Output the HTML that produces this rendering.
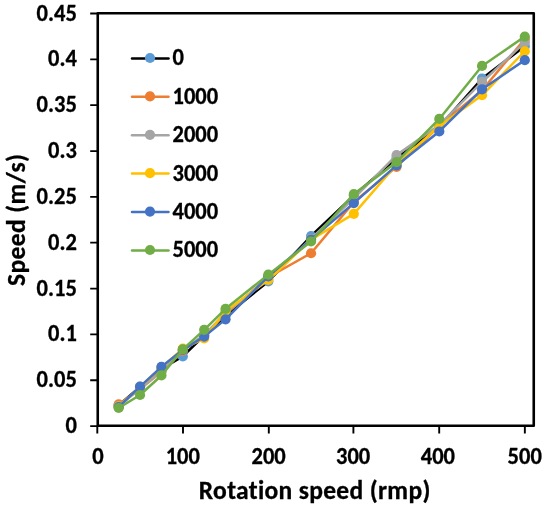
<!DOCTYPE html>
<html><head><meta charset="utf-8"><style>
html,body{margin:0;padding:0;background:#fff;}
body{width:550px;height:508px;overflow:hidden;}
svg{display:block;}
.tt{font-family:Carlito,"Liberation Sans",sans-serif;font-weight:bold;font-size:25.5px;fill:#000;stroke:#000;stroke-width:0.3px;font-variant-ligatures:none;font-feature-settings:"liga" 0;}
.t{font-family:Carlito,"Liberation Sans",sans-serif;font-weight:bold;font-size:22.5px;fill:#000;stroke:#000;stroke-width:0.3px;font-variant-ligatures:none;font-feature-settings:"liga" 0;}
</style></head><body>
<svg width="550" height="508" viewBox="0 0 550 508">
<rect x="97.75" y="13.2" width="436.0" height="412.6" fill="none" stroke="#000" stroke-width="2.6" stroke-linejoin="round"/>
<path d="M90.2 426.10H97.75 M90.2 380.26H97.75 M90.2 334.41H97.75 M90.2 288.57H97.75 M90.2 242.72H97.75 M90.2 196.88H97.75 M90.2 151.03H97.75 M90.2 105.19H97.75 M90.2 59.34H97.75 M90.2 13.50H97.75" stroke="#000" stroke-width="1.8" fill="none"/>
<path d="M97.30 425.8V433.6 M183.00 425.8V433.6 M268.80 425.8V433.6 M353.40 425.8V433.6 M439.20 425.8V433.6 M524.85 425.8V433.6" stroke="#000" stroke-width="1.9" fill="none"/>
<g><polyline points="118.67,405.17 140.05,386.83 161.42,368.95 182.80,356.48 204.17,335.49 225.55,315.77 268.30,281.48 311.05,236.00 353.80,195.66 396.55,158.07 439.30,126.89 482.05,78.48 524.80,46.21" fill="none" stroke="#000000" stroke-width="2.5" stroke-linejoin="round" stroke-linecap="round"/><circle cx="118.67" cy="405.17" r="5.1" fill="#5B9BD5"/><circle cx="140.05" cy="386.83" r="5.1" fill="#5B9BD5"/><circle cx="161.42" cy="368.95" r="5.1" fill="#5B9BD5"/><circle cx="182.80" cy="356.48" r="5.1" fill="#5B9BD5"/><circle cx="204.17" cy="335.49" r="5.1" fill="#5B9BD5"/><circle cx="225.55" cy="315.77" r="5.1" fill="#5B9BD5"/><circle cx="268.30" cy="281.48" r="5.1" fill="#5B9BD5"/><circle cx="311.05" cy="236.00" r="5.1" fill="#5B9BD5"/><circle cx="353.80" cy="195.66" r="5.1" fill="#5B9BD5"/><circle cx="396.55" cy="158.07" r="5.1" fill="#5B9BD5"/><circle cx="439.30" cy="126.89" r="5.1" fill="#5B9BD5"/><circle cx="482.05" cy="78.48" r="5.1" fill="#5B9BD5"/><circle cx="524.80" cy="46.21" r="5.1" fill="#5B9BD5"/></g>
<g><polyline points="118.67,404.25 140.05,389.12 161.42,371.70 182.80,351.07 204.17,335.03 225.55,313.94 268.30,277.26 311.05,253.24 353.80,202.08 396.55,166.87 439.30,125.98 482.05,90.22 524.80,39.06" fill="none" stroke="#ED7D31" stroke-width="2.5" stroke-linejoin="round" stroke-linecap="round"/><circle cx="118.67" cy="404.25" r="5.1" fill="#ED7D31"/><circle cx="140.05" cy="389.12" r="5.1" fill="#ED7D31"/><circle cx="161.42" cy="371.70" r="5.1" fill="#ED7D31"/><circle cx="182.80" cy="351.07" r="5.1" fill="#ED7D31"/><circle cx="204.17" cy="335.03" r="5.1" fill="#ED7D31"/><circle cx="225.55" cy="313.94" r="5.1" fill="#ED7D31"/><circle cx="268.30" cy="277.26" r="5.1" fill="#ED7D31"/><circle cx="311.05" cy="253.24" r="5.1" fill="#ED7D31"/><circle cx="353.80" cy="202.08" r="5.1" fill="#ED7D31"/><circle cx="396.55" cy="166.87" r="5.1" fill="#ED7D31"/><circle cx="439.30" cy="125.98" r="5.1" fill="#ED7D31"/><circle cx="482.05" cy="90.22" r="5.1" fill="#ED7D31"/><circle cx="524.80" cy="39.06" r="5.1" fill="#ED7D31"/></g>
<g><polyline points="118.67,406.09 140.05,388.67 161.42,371.25 182.80,350.43 204.17,335.03 225.55,313.02 268.30,279.10 311.05,238.75 353.80,198.41 396.55,155.13 439.30,125.06 482.05,81.97 524.80,42.45" fill="none" stroke="#A5A5A5" stroke-width="2.5" stroke-linejoin="round" stroke-linecap="round"/><circle cx="118.67" cy="406.09" r="5.1" fill="#A5A5A5"/><circle cx="140.05" cy="388.67" r="5.1" fill="#A5A5A5"/><circle cx="161.42" cy="371.25" r="5.1" fill="#A5A5A5"/><circle cx="182.80" cy="350.43" r="5.1" fill="#A5A5A5"/><circle cx="204.17" cy="335.03" r="5.1" fill="#A5A5A5"/><circle cx="225.55" cy="313.02" r="5.1" fill="#A5A5A5"/><circle cx="268.30" cy="279.10" r="5.1" fill="#A5A5A5"/><circle cx="311.05" cy="238.75" r="5.1" fill="#A5A5A5"/><circle cx="353.80" cy="198.41" r="5.1" fill="#A5A5A5"/><circle cx="396.55" cy="155.13" r="5.1" fill="#A5A5A5"/><circle cx="439.30" cy="125.06" r="5.1" fill="#A5A5A5"/><circle cx="482.05" cy="81.97" r="5.1" fill="#A5A5A5"/><circle cx="524.80" cy="42.45" r="5.1" fill="#A5A5A5"/></g>
<g><polyline points="118.67,406.55 140.05,386.83 161.42,367.58 182.80,348.60 204.17,338.51 225.55,311.19 268.30,280.01 311.05,239.67 353.80,213.82 396.55,164.49 439.30,125.98 482.05,95.26 524.80,51.25" fill="none" stroke="#FFC000" stroke-width="2.5" stroke-linejoin="round" stroke-linecap="round"/><circle cx="118.67" cy="406.55" r="5.1" fill="#FFC000"/><circle cx="140.05" cy="386.83" r="5.1" fill="#FFC000"/><circle cx="161.42" cy="367.58" r="5.1" fill="#FFC000"/><circle cx="182.80" cy="348.60" r="5.1" fill="#FFC000"/><circle cx="204.17" cy="338.51" r="5.1" fill="#FFC000"/><circle cx="225.55" cy="311.19" r="5.1" fill="#FFC000"/><circle cx="268.30" cy="280.01" r="5.1" fill="#FFC000"/><circle cx="311.05" cy="239.67" r="5.1" fill="#FFC000"/><circle cx="353.80" cy="213.82" r="5.1" fill="#FFC000"/><circle cx="396.55" cy="164.49" r="5.1" fill="#FFC000"/><circle cx="439.30" cy="125.98" r="5.1" fill="#FFC000"/><circle cx="482.05" cy="95.26" r="5.1" fill="#FFC000"/><circle cx="524.80" cy="51.25" r="5.1" fill="#FFC000"/></g>
<g><polyline points="118.67,407.00 140.05,386.65 161.42,366.84 182.80,349.88 204.17,336.59 225.55,319.35 268.30,276.35 311.05,239.67 353.80,203.09 396.55,165.40 439.30,131.48 482.05,89.30 524.80,60.14" fill="none" stroke="#4472C4" stroke-width="2.5" stroke-linejoin="round" stroke-linecap="round"/><circle cx="118.67" cy="407.00" r="5.1" fill="#4472C4"/><circle cx="140.05" cy="386.65" r="5.1" fill="#4472C4"/><circle cx="161.42" cy="366.84" r="5.1" fill="#4472C4"/><circle cx="182.80" cy="349.88" r="5.1" fill="#4472C4"/><circle cx="204.17" cy="336.59" r="5.1" fill="#4472C4"/><circle cx="225.55" cy="319.35" r="5.1" fill="#4472C4"/><circle cx="268.30" cy="276.35" r="5.1" fill="#4472C4"/><circle cx="311.05" cy="239.67" r="5.1" fill="#4472C4"/><circle cx="353.80" cy="203.09" r="5.1" fill="#4472C4"/><circle cx="396.55" cy="165.40" r="5.1" fill="#4472C4"/><circle cx="439.30" cy="131.48" r="5.1" fill="#4472C4"/><circle cx="482.05" cy="89.30" r="5.1" fill="#4472C4"/><circle cx="524.80" cy="60.14" r="5.1" fill="#4472C4"/></g>
<g><polyline points="118.67,408.01 140.05,394.99 161.42,375.46 182.80,349.42 204.17,329.80 225.55,308.80 268.30,274.61 311.05,241.51 353.80,194.10 396.55,162.19 439.30,118.92 482.05,65.92 524.80,36.58" fill="none" stroke="#70AD47" stroke-width="2.5" stroke-linejoin="round" stroke-linecap="round"/><circle cx="118.67" cy="408.01" r="5.1" fill="#70AD47"/><circle cx="140.05" cy="394.99" r="5.1" fill="#70AD47"/><circle cx="161.42" cy="375.46" r="5.1" fill="#70AD47"/><circle cx="182.80" cy="349.42" r="5.1" fill="#70AD47"/><circle cx="204.17" cy="329.80" r="5.1" fill="#70AD47"/><circle cx="225.55" cy="308.80" r="5.1" fill="#70AD47"/><circle cx="268.30" cy="274.61" r="5.1" fill="#70AD47"/><circle cx="311.05" cy="241.51" r="5.1" fill="#70AD47"/><circle cx="353.80" cy="194.10" r="5.1" fill="#70AD47"/><circle cx="396.55" cy="162.19" r="5.1" fill="#70AD47"/><circle cx="439.30" cy="118.92" r="5.1" fill="#70AD47"/><circle cx="482.05" cy="65.92" r="5.1" fill="#70AD47"/><circle cx="524.80" cy="36.58" r="5.1" fill="#70AD47"/></g>
<path d="M132 58.40H168.5" stroke="#000000" stroke-width="2.5" stroke-linecap="round"/>
<circle cx="150" cy="58.00" r="5.1" fill="#5B9BD5"/>
<text transform="translate(172.50 65.30) scale(1.0 1.03)" class="t" textLength="11.41" lengthAdjust="spacingAndGlyphs">0</text>
<path d="M132 96.80H168.5" stroke="#ED7D31" stroke-width="2.5" stroke-linecap="round"/>
<circle cx="150" cy="96.40" r="5.1" fill="#ED7D31"/>
<text transform="translate(172.50 103.70) scale(1.0 1.03)" class="t" textLength="45.62" lengthAdjust="spacingAndGlyphs">1000</text>
<path d="M132 135.20H168.5" stroke="#A5A5A5" stroke-width="2.5" stroke-linecap="round"/>
<circle cx="150" cy="134.80" r="5.1" fill="#A5A5A5"/>
<text transform="translate(172.50 142.10) scale(1.0 1.03)" class="t" textLength="45.62" lengthAdjust="spacingAndGlyphs">2000</text>
<path d="M132 173.60H168.5" stroke="#FFC000" stroke-width="2.5" stroke-linecap="round"/>
<circle cx="150" cy="173.20" r="5.1" fill="#FFC000"/>
<text transform="translate(172.50 180.50) scale(1.0 1.03)" class="t" textLength="45.62" lengthAdjust="spacingAndGlyphs">3000</text>
<path d="M132 212.00H168.5" stroke="#4472C4" stroke-width="2.5" stroke-linecap="round"/>
<circle cx="150" cy="211.60" r="5.1" fill="#4472C4"/>
<text transform="translate(172.50 218.90) scale(1.0 1.03)" class="t" textLength="45.62" lengthAdjust="spacingAndGlyphs">4000</text>
<path d="M132 250.40H168.5" stroke="#70AD47" stroke-width="2.5" stroke-linecap="round"/>
<circle cx="150" cy="250.00" r="5.1" fill="#70AD47"/>
<text transform="translate(172.50 257.30) scale(1.0 1.03)" class="t" textLength="45.62" lengthAdjust="spacingAndGlyphs">5000</text>
<text transform="translate(76.80 433.10) scale(1.0 1.03)" class="t" text-anchor="end" textLength="11.41" lengthAdjust="spacingAndGlyphs">0</text>
<text transform="translate(76.80 387.26) scale(1.0 1.03)" class="t" text-anchor="end" textLength="40.20" lengthAdjust="spacingAndGlyphs">0.05</text>
<text transform="translate(76.80 341.41) scale(1.0 1.03)" class="t" text-anchor="end" textLength="28.80" lengthAdjust="spacingAndGlyphs">0.1</text>
<text transform="translate(76.80 295.57) scale(1.0 1.03)" class="t" text-anchor="end" textLength="40.20" lengthAdjust="spacingAndGlyphs">0.15</text>
<text transform="translate(76.80 249.72) scale(1.0 1.03)" class="t" text-anchor="end" textLength="28.80" lengthAdjust="spacingAndGlyphs">0.2</text>
<text transform="translate(76.80 203.88) scale(1.0 1.03)" class="t" text-anchor="end" textLength="40.20" lengthAdjust="spacingAndGlyphs">0.25</text>
<text transform="translate(76.80 158.03) scale(1.0 1.03)" class="t" text-anchor="end" textLength="28.80" lengthAdjust="spacingAndGlyphs">0.3</text>
<text transform="translate(76.80 112.19) scale(1.0 1.03)" class="t" text-anchor="end" textLength="40.20" lengthAdjust="spacingAndGlyphs">0.35</text>
<text transform="translate(76.80 66.34) scale(1.0 1.03)" class="t" text-anchor="end" textLength="28.80" lengthAdjust="spacingAndGlyphs">0.4</text>
<text transform="translate(76.80 20.50) scale(1.0 1.03)" class="t" text-anchor="end" textLength="40.20" lengthAdjust="spacingAndGlyphs">0.45</text>
<text transform="translate(98.00 463.60) scale(1.0 1.03)" class="t" text-anchor="middle" textLength="11.41" lengthAdjust="spacingAndGlyphs">0</text>
<text transform="translate(182.75 463.60) scale(1.0 1.03)" class="t" text-anchor="middle" textLength="34.22" lengthAdjust="spacingAndGlyphs">100</text>
<text transform="translate(268.60 463.60) scale(1.0 1.03)" class="t" text-anchor="middle" textLength="34.22" lengthAdjust="spacingAndGlyphs">200</text>
<text transform="translate(353.10 463.60) scale(1.0 1.03)" class="t" text-anchor="middle" textLength="34.22" lengthAdjust="spacingAndGlyphs">300</text>
<text transform="translate(437.90 463.60) scale(1.0 1.03)" class="t" text-anchor="middle" textLength="34.22" lengthAdjust="spacingAndGlyphs">400</text>
<text transform="translate(524.70 463.60) scale(1.0 1.03)" class="t" text-anchor="middle" textLength="34.22" lengthAdjust="spacingAndGlyphs">500</text>
<text x="314.6" y="498.5" class="tt" text-anchor="middle" textLength="231.5" lengthAdjust="spacing">Rotation speed (rmp)</text>
<text transform="translate(24.6 220) rotate(-90)" class="tt" text-anchor="middle" textLength="132" lengthAdjust="spacing">Speed (m/s)</text>
</svg>
</body></html>
